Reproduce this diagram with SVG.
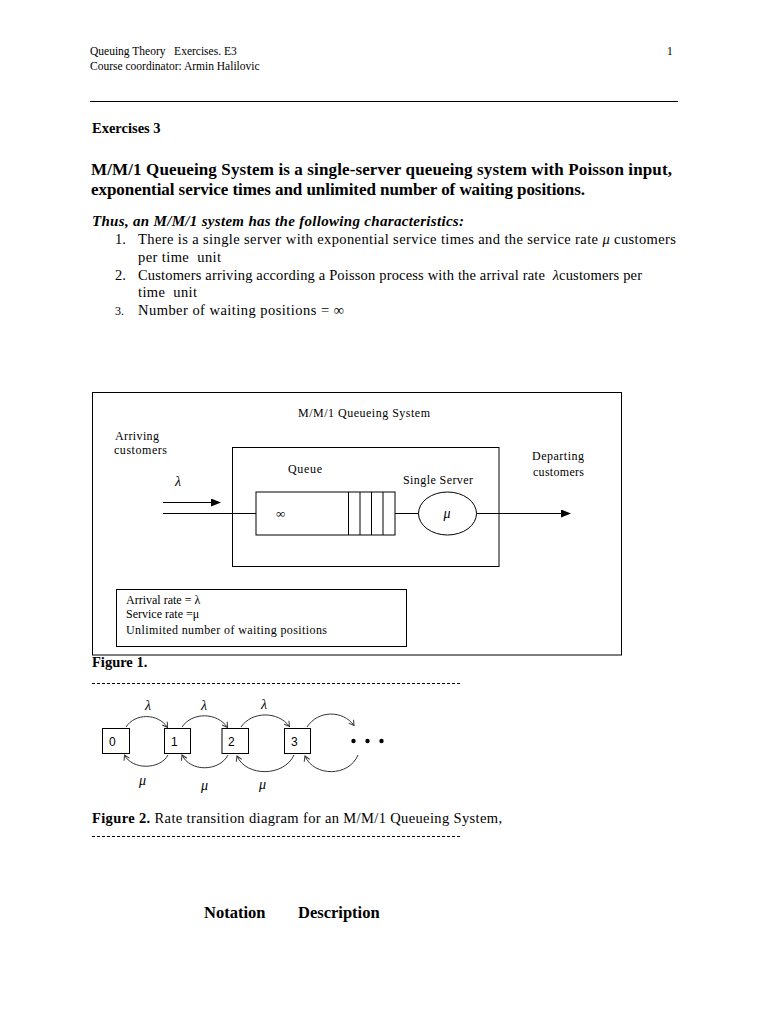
<svg xmlns="http://www.w3.org/2000/svg" width="768" height="1024" viewBox="0 0 768 1024">
<style>
text{font-family:"Liberation Serif","Times New Roman",serif;fill:#000;white-space:pre}
.hd{font-size:11.5px}
.b{font-weight:bold}
.it{font-style:italic}
.f1{font-size:12px}
.li{font-size:14.5px}
.st{font-family:"Liberation Sans",Arial,sans-serif;font-size:12px}
.ln{stroke:#000;stroke-width:1;fill:none}
.arc{stroke:#333;stroke-width:1;fill:none}
.dash{stroke:#000;stroke-width:1;stroke-dasharray:3,2}
</style>
<defs>
<marker id="solid" markerWidth="10" markerHeight="8" refX="9" refY="4" orient="auto" markerUnits="userSpaceOnUse">
<path d="M0,0 L10,4 L0,8 Z" fill="#000"/>
</marker>
<marker id="open" markerWidth="8" markerHeight="8" refX="6" refY="4" orient="auto" markerUnits="userSpaceOnUse">
<path d="M1,1 L6,4 L1,7" fill="none" stroke="#333" stroke-width="1"/>
</marker>
</defs>
<rect width="768" height="1024" fill="#fff"/>

<g id="header">
<text class="hd" x="90" y="55" xml:space="preserve">Queuing Theory   Exercises. E3</text>
<text class="hd" x="667" y="55">1</text>
<text class="hd" x="90" y="70">Course coordinator: Armin Halilovic</text>
<line x1="90" y1="101.5" x2="678" y2="101.5" class="ln"/>
</g>

<g id="intro">
<text class="b" x="92" y="133" font-size="14.5">Exercises 3</text>
<text class="b" x="91" y="175" font-size="17" textLength="581" lengthAdjust="spacing">M/M/1 Queueing System is a single-server queueing system with Poisson input,</text>
<text class="b" x="91" y="195" font-size="17" textLength="494" lengthAdjust="spacing">exponential service times and unlimited number of waiting positions.</text>
<text class="b it" x="92" y="226" font-size="15" textLength="372" lengthAdjust="spacing">Thus, an M/M/1 system has the following characteristics:</text>
<text class="li" x="115" y="244">1.</text>
<text class="li" x="138" y="244" textLength="538" lengthAdjust="spacing">There is a single server with exponential service times and the service rate <tspan class="it">μ</tspan> customers</text>
<text class="li" x="138" y="262" xml:space="preserve" textLength="83" lengthAdjust="spacing">per time  unit</text>
<text class="li" x="115" y="280">2.</text>
<text class="li" x="138" y="280" xml:space="preserve" textLength="504" lengthAdjust="spacing">Customers arriving according a Poisson process with the arrival rate  <tspan class="it">λ</tspan>customers per</text>
<text class="li" x="138" y="297" xml:space="preserve" textLength="59" lengthAdjust="spacing">time  unit</text>
<text font-size="12" x="115" y="315">3.</text>
<text class="li" x="138" y="315" textLength="206" lengthAdjust="spacing">Number of waiting positions = ∞</text>
</g>

<g id="figure1">
<rect id="outer-box" x="92.5" y="392.5" width="529" height="262.5" class="ln"/>
<text class="f1" x="298" y="417" textLength="132" lengthAdjust="spacing">M/M/1 Queueing System</text>
<g id="arriving">
<text class="f1" x="115" y="440" textLength="44" lengthAdjust="spacing">Arriving</text>
<text class="f1" x="114" y="454" textLength="53" lengthAdjust="spacing">customers</text>
<text class="it" x="175" y="486" font-size="14">λ</text>
</g>
<rect id="system-box" x="232.5" y="447.5" width="266.5" height="119" class="ln"/>
<g id="queue">
<text class="f1" x="288" y="473" textLength="34" lengthAdjust="spacing">Queue</text>
<rect x="256" y="492" width="139" height="43" class="ln"/>
<line x1="348.5" y1="492" x2="348.5" y2="535" class="ln"/>
<line x1="360" y1="492" x2="360" y2="535" class="ln"/>
<line x1="371.5" y1="492" x2="371.5" y2="535" class="ln"/>
<line x1="383" y1="492" x2="383" y2="535" class="ln"/>
<text x="276" y="518" font-size="13">∞</text>
</g>
<g id="server">
<text class="f1" x="403" y="484" textLength="70" lengthAdjust="spacing">Single Server</text>
<ellipse cx="447.5" cy="513.5" rx="29" ry="21.5" class="ln"/>
<text class="it" x="447" y="518" font-size="14" text-anchor="middle">μ</text>
</g>
<g id="departing">
<text class="f1" x="532" y="460" textLength="52" lengthAdjust="spacing">Departing</text>
<text class="f1" x="533" y="476" textLength="51" lengthAdjust="spacing">customers</text>
</g>
<g id="legend">
<rect x="116.5" y="589.5" width="290" height="57" class="ln"/>
<text class="f1" x="126" y="604">Arrival rate = λ</text>
<text class="f1" x="126" y="618">Service rate =μ</text>
<text class="f1" x="126" y="634" textLength="201" lengthAdjust="spacing">Unlimited number of waiting positions</text>
</g>
<g id="fig1-connectors">
<line x1="163" y1="502.5" x2="220" y2="502.5" class="ln" marker-end="url(#solid)"/>
<line x1="163" y1="513.5" x2="256" y2="513.5" class="ln"/>
<line x1="395" y1="513.5" x2="418.5" y2="513.5" class="ln"/>
<line x1="476.5" y1="513.5" x2="570" y2="513.5" class="ln" marker-end="url(#solid)"/>
</g>
<text class="b" x="92" y="667" font-size="14.5">Figure 1.</text>
<line x1="92" y1="683.5" x2="462" y2="683.5" class="dash"/>
</g>

<g id="figure2">
<g id="state0"><rect x="102.5" y="728.5" width="27" height="25" class="ln"/><text class="st" x="109" y="746">0</text></g>
<g id="state1"><rect x="164.5" y="728.5" width="26" height="25" class="ln"/><text class="st" x="171" y="746">1</text></g>
<g id="state2"><rect x="222" y="728.5" width="26.5" height="25" class="ln"/><text class="st" x="228" y="746">2</text></g>
<g id="state3"><rect x="284.5" y="728.5" width="26" height="25" class="ln"/><text class="st" x="291" y="746">3</text></g>
<g id="ellipsis">
<circle cx="353.5" cy="741" r="2.2"/>
<circle cx="367.5" cy="741" r="2.2"/>
<circle cx="381.5" cy="741" r="2.2"/>
</g>
<g id="transitions">
<path class="arc" d="M126,727 C135,713 158,713 167.5,727.5" marker-end="url(#open)"/>
<path class="arc" d="M182,727 C192,712 217,712 227.5,727.5" marker-end="url(#open)"/>
<path class="arc" d="M241,727 C252,711 278,711 289.5,726.5" marker-end="url(#open)"/>
<path class="arc" d="M307,727 C318,710 343,710 354,725.5" marker-end="url(#open)"/>
<path class="arc" d="M168,755 C160,770 132,770 124.5,755" marker-end="url(#open)"/>
<path class="arc" d="M228,755 C219,772 190,772 182,755" marker-end="url(#open)"/>
<path class="arc" d="M294,755 C284,777 246,777 237,756" marker-end="url(#open)"/>
<path class="arc" d="M358,755 C349,777 314,777 305,756" marker-end="url(#open)"/>
</g>
<g id="rate-labels">
<text class="it" x="145" y="710" font-size="14">λ</text>
<text class="it" x="201" y="710" font-size="14">λ</text>
<text class="it" x="261" y="709" font-size="14">λ</text>
<text class="it" x="139" y="785" font-size="14">μ</text>
<text class="it" x="201" y="790" font-size="14">μ</text>
<text class="it" x="259" y="789" font-size="14">μ</text>
</g>
<text x="92" y="823" font-size="14.5" textLength="410" lengthAdjust="spacing"><tspan class="b">Figure 2.</tspan> Rate transition diagram for an M/M/1 Queueing System,</text>
<line x1="92" y1="836.5" x2="462" y2="836.5" class="dash"/>
</g>

<g id="notation">
<text class="b" x="204" y="918" font-size="16.5">Notation</text>
<text class="b" x="298" y="918" font-size="16.5">Description</text>
</g>
</svg>
